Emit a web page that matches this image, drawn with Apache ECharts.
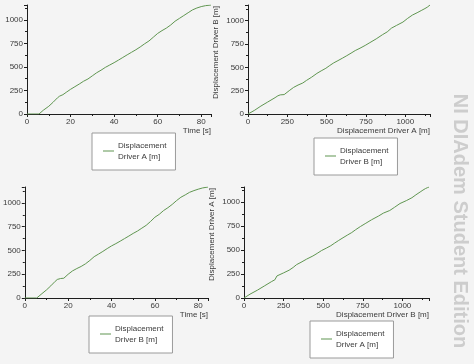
<!DOCTYPE html>
<html>
<head>
<meta charset="utf-8">
<script src="https://cdn.jsdelivr.net/npm/echarts@6/dist/echarts.min.js"></script>
<style>
html,body{margin:0;padding:0;background:#f4f4f4;}
#c{width:474px;height:364px;}
</style>
</head>
<body>
<div id="c"></div>
<script>
// Shared time base [s]
var time  = [0, 5.5, 7.5, 10, 12, 14, 15, 16.5, 18, 20, 22, 24, 26, 28, 30, 32, 34, 36, 38, 40, 42, 44, 46, 48, 50, 52, 54, 56, 58, 60, 62, 64, 66, 68, 70, 72, 74, 76, 78, 80, 82, 84.5];
// Displacement Driver A [m]
var dispA = [0, 0, 40, 82, 125, 172, 190, 205, 230, 262, 290, 318, 348, 372, 405, 438, 465, 495, 520, 545, 572, 600, 628, 655, 682, 712, 745, 775, 815, 855, 885, 912, 945, 985, 1015, 1045, 1075, 1105, 1125, 1140, 1150, 1157];
// Displacement Driver B [m]
var dispB = [0, 0, 38, 85, 128, 175, 195, 205, 208, 250, 285, 310, 332, 360, 395, 435, 462, 490, 520, 548, 572, 598, 625, 652, 680, 705, 735, 765, 805, 850, 880, 920, 950, 985, 1025, 1060, 1085, 1112, 1130, 1145, 1158, 1168];

var nameA = 'Displacement\nDriver A [m]';
var nameB = 'Displacement\nDriver B [m]';
var axisNameA = 'Displacement Driver A [m]';
var axisNameB = 'Displacement Driver B [m]';
var timeName = 'Time [s]';

function pairs(xs, ys){ var o=[]; for(var i=0;i<xs.length;i++){ o.push([xs[i], ys[i]]); } return o; }
function maxOf(a){ return Math.max.apply(null, a); }

var FONT = 'Liberation Sans, Arial, sans-serif';
var TXT = '#3a3a3a';
var LINE = '#5f9550';

var grids = [
  {left: 27,  top: 5,   width: 184, height: 109},
  {left: 248, top: 5,   width: 182, height: 109},
  {left: 24,  top: 187, width: 184, height: 111},
  {left: 244, top: 187, width: 185, height: 111}
];

function baseAxis(extra){
  var a = {
    type: 'value',
    min: 0,
    axisLine: {show: true, onZero: false, lineStyle: {color: '#1e1e1e', width: 1}},
    axisTick: {show: true, inside: false, length: 3, lineStyle: {color: '#1e1e1e'}},
    minorTick: {show: true, splitNumber: 2, length: 2, lineStyle: {color: '#1e1e1e'}},
    splitLine: {show: false},
    axisLabel: {color: TXT, fontSize: 8, fontFamily: FONT, showMaxLabel: false, margin: 4,
      formatter: function(v){ return String(v); }},
    nameTextStyle: {color: TXT, fontSize: 8, fontFamily: FONT}
  };
  for (var k in extra) a[k] = extra[k];
  return a;
}

function xName(n){
  return {
    name: n, nameLocation: 'end', nameGap: 0,
    nameTextStyle: {color: TXT, fontSize: 8, fontFamily: FONT, align: 'right', verticalAlign: 'top', padding: [13, 0, 0, 0]}
  };
}
function yName(n, shift){
  return {
    name: n, nameLocation: 'middle', nameGap: 28,
    nameTextStyle: {color: TXT, fontSize: 8, fontFamily: FONT, padding: [0, 0, 0, shift]}
  };
}
function merge(a, b){ for (var k in b) a[k] = b[k]; return a; }

var xAxes = [
  baseAxis(merge({gridIndex: 0, max: maxOf(time), interval: 20}, xName(timeName))),
  baseAxis(merge({gridIndex: 1, max: maxOf(dispA), interval: 250}, xName(axisNameA))),
  baseAxis(merge({gridIndex: 2, max: maxOf(time), interval: 20}, xName(timeName))),
  baseAxis(merge({gridIndex: 3, max: maxOf(dispB), interval: 250}, xName(axisNameB)))
];
var yAxes = [
  baseAxis({gridIndex: 0, max: maxOf(dispA), interval: 250}),
  baseAxis(merge({gridIndex: 1, max: maxOf(dispB), interval: 250}, yName(axisNameB, 14))),
  baseAxis({gridIndex: 2, max: maxOf(dispB), interval: 250}),
  baseAxis(merge({gridIndex: 3, max: maxOf(dispA), interval: 250}, yName(axisNameA, 16)))
];

function ser(name, idx, data){
  return {
    type: 'line', name: name, xAxisIndex: idx, yAxisIndex: idx,
    data: data, showSymbol: false, symbol: 'none', smooth: false,
    lineStyle: {color: LINE, width: 1}, itemStyle: {color: LINE}
  };
}

var series = [
  ser(nameA, 0, pairs(time, dispA)),
  ser(nameB, 1, pairs(dispA, dispB)),
  ser(nameB, 2, pairs(time, dispB)),
  ser(nameA, 3, pairs(dispB, dispA))
];

function leg(name, left, top){
  return {
    data: [{name: name, icon: 'rect'}], left: left, top: top, orient: 'vertical',
    backgroundColor: '#ffffff', borderColor: '#9a9a9a', borderWidth: 1, borderRadius: 0,
    padding: [7, 9, 8, 11], itemWidth: 11, itemHeight: 1, itemGap: 0,
    selectedMode: false,
    itemStyle: {color: LINE},
    textStyle: {color: TXT, fontSize: 8, fontFamily: FONT, lineHeight: 11, padding: [0, 0, 0, -1]}
  };
}

var legends = [
  leg(nameA, 92, 133),
  leg(nameB, 314, 138),
  leg(nameB, 89, 316),
  leg(nameA, 310, 321)
];

var chart = echarts.init(document.getElementById('c'), null, {renderer: 'canvas'});
chart.setOption({
  animation: false,
  backgroundColor: '#f4f4f4',
  grid: grids,
  xAxis: xAxes,
  yAxis: yAxes,
  legend: legends,
  series: series,
  graphic: [{
    type: 'text', x: 460, y: 221, rotation: -Math.PI / 2,
    style: {text: 'NI DIAdem Student Edition', fill: '#cdcdcd', fontSize: 20, fontWeight: 'bold', fontFamily: FONT, align: 'center', verticalAlign: 'middle'}
  }]
});
</script>
</body>
</html>
